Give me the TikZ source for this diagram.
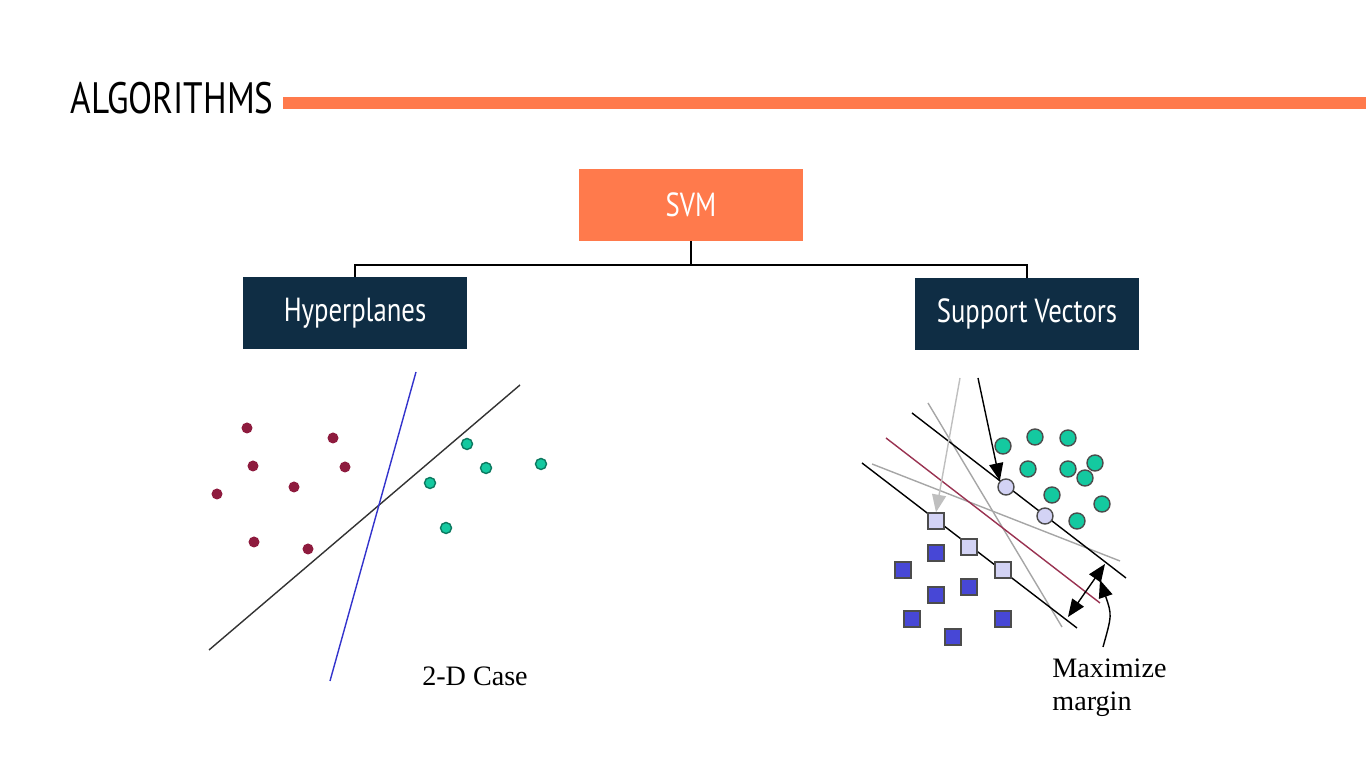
\documentclass[tikz,border=0pt]{standalone}
\usepackage{fontspec}
\setsansfont{PT Sans}[FakeStretch=0.8]
\newfontfamily\serifface{Liberation Serif}
\usetikzlibrary{positioning,arrows.meta}
\definecolor{accent}{HTML}{FF7A4C}
\definecolor{navy}{HTML}{0F2D44}
\definecolor{wine}{HTML}{8E1B3E}
\definecolor{mint}{HTML}{14C9A0}
\definecolor{lilac}{HTML}{D3D3F5}
\definecolor{royal}{HTML}{4747D6}
\tikzset{
  box/.style={minimum width=2.24cm, minimum height=0.71cm, inner sep=0pt, text=white, font=\sffamily\fontsize{9.5}{11}\selectfont},
  redpt/.style={circle, fill=wine, minimum size=0.11cm, inner sep=0pt},
  tealpt/.style={circle, fill=mint, draw=mint!60!black, minimum size=0.11cm, inner sep=0pt},
  bigpt/.style={circle, fill=mint, draw=black!70, minimum size=0.16cm, inner sep=0pt},
  supcirc/.style={circle, fill=lilac, draw=black!70, minimum size=0.16cm, inner sep=0pt},
  supsq/.style={rectangle, fill=lilac, draw=black!70, minimum size=0.16cm, inner sep=0pt},
  bluesq/.style={rectangle, fill=royal, draw=black!70, minimum size=0.16cm, inner sep=0pt},
  caption/.style={font=\serifface\fontsize{8}{9.5}\selectfont, align=left}
}
\begin{document}
\begin{tikzpicture}[x=0.01cm, y=-0.01cm]
  \useasboundingbox (0,0) rectangle (1366,768);
  \node (title) [anchor=west, inner sep=0pt, font=\sffamily\fontsize{12.5}{14}\selectfont] at (70,98) {ALGORITHMS};
  \fill[accent] (283,97) rectangle (1366,109);

  \node (svm) [box, fill=accent] at (691,205) {SVM};
  \node (hyper) [box, fill=navy] at (355,313) {Hyperplanes};
  \node (suppv) [box, fill=navy] at (1027,314) {Support Vectors};
  \draw[line width=0.6pt] (svm.south) -- ++(0,24) -| (hyper.north);
  \draw[line width=0.6pt] (svm.south) -- ++(0,24) -| (suppv.north);

  % 2-D case
  \coordinate (h1a) at (209,650); \coordinate (h1b) at (520,385);
  \coordinate (h2a) at (330,681); \coordinate (h2b) at (416,372);
  \draw[black!80] (h1a) -- (h1b);
  \draw[blue!60!gray] (h2a) -- (h2b);
  \foreach \px/\py in {247/428,333/438,253/466,345/467,217/494,294/487,254/542,308/549}
    \node[redpt] at (\px,\py) {};
  \foreach \px/\py in {467/444,486/468,541/464,430/483,446/528}
    \node[tealpt] at (\px,\py) {};
  \node (case) [caption] at (475,676) {2-D Case};

  % margin picture
  \coordinate (up1) at (912,413); \coordinate (up2) at (1126,578);
  \coordinate (lo1) at (862,463); \coordinate (lo2) at (1077,628);
  \coordinate (md1) at (886,438); \coordinate (md2) at (1100,603);
  \coordinate (ga1) at (928,403); \coordinate (ga2) at (1062,627);
  \coordinate (gb1) at (872,464); \coordinate (gb2) at (1120,561);
  \draw[gray!70] (ga1) -- (ga2);
  \draw[gray!70] (gb1) -- (gb2);
  \draw[wine!90] (md1) -- (md2);
  \draw (up1) -- (up2);
  \draw (lo1) -- (lo2);
  \foreach \px/\py in {1003/446,1035/437,1068/438,1095/463,1028/469,1068/469,1085/478,1052/495,1102/504,1077/521}
    \node[bigpt] at (\px,\py) {};
  \node (sc1) [supcirc] at (1006,487) {};
  \node (sc2) [supcirc] at (1045,516) {};
  \node (sq1) [supsq] at (936,521) {};
  \node (sq2) [supsq] at (969,547) {};
  \node (sq3) [supsq] at (1003,570) {};
  \foreach \px/\py in {936/553,903/570,936/595,969/587,912/619,953/637,1003/619}
    \node[bluesq] at (\px,\py) {};
  \coordinate (p1) at (978,378); \coordinate (p2) at (960,378);
  \draw[-{Triangle[length=5pt,width=4pt]}] (p1) -- (sc1.north west);
  \draw[gray!50, -{Triangle[length=5pt,width=4pt]}] (p2) -- (sq1.north);
  \coordinate (m1) at (1068,617); \coordinate (m2) at (1105,564);
  \draw[{Triangle[length=5pt,width=4pt]}-{Triangle[length=5pt,width=4pt]}] (m1) -- (m2);
  \node (maxm) [caption, anchor=north west] at (1040,646) {Maximize\\margin};
  \coordinate (m3) at (1100,580);
  \draw[-{Triangle[length=5pt,width=4pt]}] (1103,647) .. controls (1112,615) .. (m3);
\end{tikzpicture}
\end{document}
